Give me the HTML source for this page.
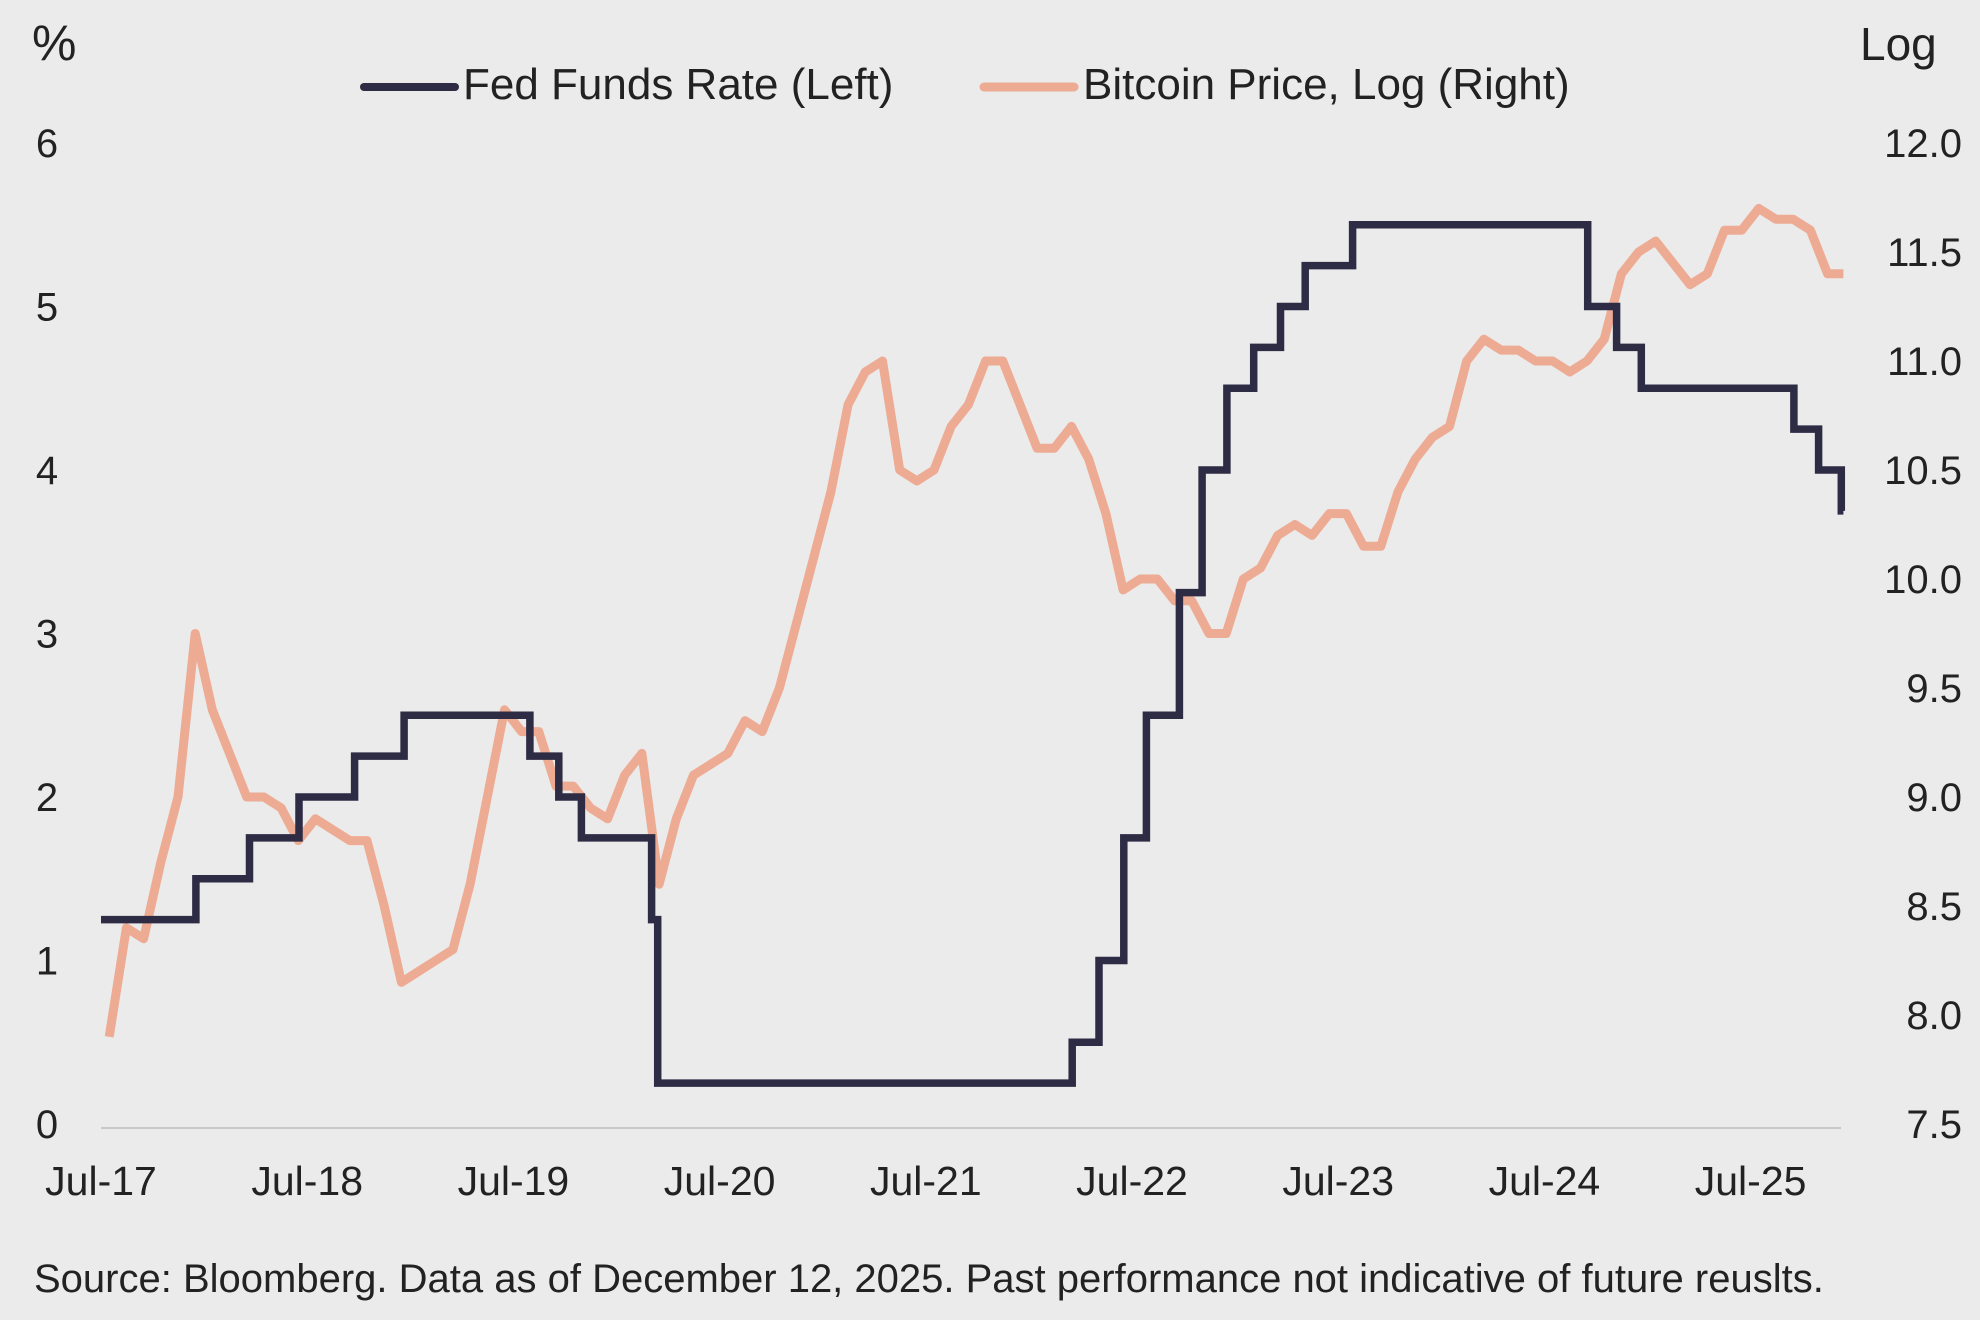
<!DOCTYPE html>
<html><head><meta charset="utf-8">
<style>
html,body{margin:0;padding:0;background:#ebebeb;}
svg{display:block;font-family:"Liberation Sans",sans-serif;}
</style></head>
<body>
<svg id="chart" width="1980" height="1320" viewBox="0 0 1980 1320">
<rect width="1980" height="1320" fill="#ebebeb"/>
<text x="32" y="60" font-size="50" fill="#222">%</text>
<text x="1860" y="60" font-size="46" fill="#222">Log</text>
<g>
<line x1="364" y1="87" x2="455" y2="87" stroke="#2e2b45" stroke-width="8" stroke-linecap="round"/>
<text x="463" y="99" font-size="44" fill="#222">Fed Funds Rate (Left)</text>
<line x1="984" y1="87" x2="1074" y2="87" stroke="#eeab93" stroke-width="9" stroke-linecap="round"/>
<text x="1083" y="99" font-size="44" fill="#222">Bitcoin Price, Log (Right)</text>
</g>
<line x1="101" y1="1128" x2="1841" y2="1128" stroke="#c8c8c8" stroke-width="2"/>
<g id="leftTicks"></g><g id="rightTicks"></g><g id="xTicks"></g>
<g id="series"></g>
<text x="34" y="1292" font-size="40" fill="#222">Source: Bloomberg. Data as of December 12, 2025. Past performance not indicative of future reuslts.</text>
</svg>
<script>
const leftTicks=[0,1,2,3,4,5,6];
const rightTicks=["7.5","8.0","8.5","9.0","9.5","10.0","10.5","11.0","11.5","12.0"];
const xLabels=["Jul-17","Jul-18","Jul-19","Jul-20","Jul-21","Jul-22","Jul-23","Jul-24","Jul-25"];
const fedDates=[2017.5,2017.96,2018.22,2018.46,2018.73,2018.97,2019.58,2019.72,2019.83,2020.17,2020.2,2022.21,2022.34,2022.46,2022.57,2022.73,2022.84,2022.96,2023.09,2023.22,2023.34,2023.57,2024.71,2024.85,2024.97,2025.71,2025.83,2025.94,2025.95];
const fedRates=[1.25,1.5,1.75,2.0,2.25,2.5,2.25,2.0,1.75,1.25,0.25,0.5,1.0,1.75,2.5,3.25,4.0,4.5,4.75,5.0,5.25,5.5,5.0,4.75,4.5,4.25,4.0,3.75,3.75];
const btcLog=[7.9,8.4,8.35,8.7,9.0,9.75,
9.4,9.2,9.0,9.0,8.95,8.8,8.9,8.85,8.8,8.8,8.5,8.15,
8.2,8.25,8.3,8.6,9.0,9.4,9.3,9.3,9.05,9.05,8.95,8.9,
9.1,9.2,8.6,8.9,9.1,9.15,9.2,9.35,9.3,9.5,9.8,10.1,
10.4,10.8,10.95,11.0,10.5,10.45,10.5,10.7,10.8,11.0,11.0,10.8,
10.6,10.6,10.7,10.55,10.3,9.95,10.0,10.0,9.9,9.9,9.75,9.75,
10.0,10.05,10.2,10.25,10.2,10.3,10.3,10.15,10.15,10.4,10.55,10.65,
10.7,11.0,11.1,11.05,11.05,11.0,11.0,10.95,11.0,11.1,11.4,11.5,
11.55,11.45,11.35,11.4,11.6,11.6,11.7,11.65,11.65,11.6,11.4,11.4];
const NS='http://www.w3.org/2000/svg';
function xS(t){return 101+(t-2017.5)*206.2;}
function yL(v){return 1124-v*(1124-143)/6;}
function yR(v){return 1124-(v-7.5)*(1124-143)/4.5;}
function mk(tag,attrs,parent){const e=document.createElementNS(NS,tag);for(const k in attrs)e.setAttribute(k,attrs[k]);parent.appendChild(e);return e;}
const lt=document.getElementById('leftTicks');
leftTicks.forEach(v=>{const t=mk('text',{x:47,y:yL(v)+14,'font-size':40,'text-anchor':'middle',fill:'#222'},lt);

t.textContent=v;});
const rt=document.getElementById('rightTicks');
rightTicks.forEach(v=>{const t=mk('text',{x:1962,y:yR(parseFloat(v))+14,'font-size':40,'text-anchor':'end',fill:'#222'},rt);

t.textContent=v;});
const xt=document.getElementById('xTicks');
xLabels.forEach((l,i)=>{const t=mk('text',{x:xS(2017.5+i),y:1195,'font-size':41,'text-anchor':'middle',fill:'#222'},xt);

t.textContent=l;});
const sg=document.getElementById('series');
let bp=btcLog.map((v,i)=>{let t=2017.5+i/12+0.04;if(t>2025.95)t=2025.95;return xS(t).toFixed(1)+','+yR(v).toFixed(1);});
const btc=mk('polyline',{points:bp.join(' '),fill:'none',stroke:'#eeab93','stroke-width':9,'stroke-linejoin':'round'},sg);


let fp=[];
fedDates.forEach((d,i)=>{if(i>0)fp.push(xS(d).toFixed(1)+','+yL(fedRates[i-1]).toFixed(1));fp.push(xS(d).toFixed(1)+','+yL(fedRates[i]).toFixed(1));});
const fed=mk('polyline',{points:fp.join(' '),fill:'none',stroke:'#2e2b45','stroke-width':7.5},sg);


</script>
</body></html>
